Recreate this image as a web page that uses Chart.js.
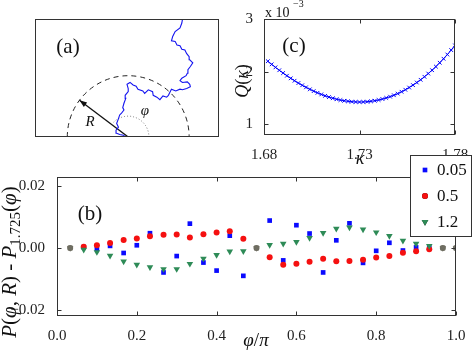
<!DOCTYPE html>
<html>
<head>
<meta charset="utf-8">
<script src="https://cdn.jsdelivr.net/npm/chart.js@4.4.1/dist/chart.umd.min.js"></script>
<style>
  html, body { margin: 0; padding: 0; background: #fff; }
  #wrap { position: relative; width: 474px; height: 353px; overflow: hidden; }
  #wrap canvas { position: absolute; left: 0; top: 0; }
</style>
</head>
<body>
<div id="wrap">
  <canvas id="panelA" width="474" height="353"></canvas>
  <canvas id="panelC" width="474" height="353"></canvas>
  <canvas id="panelB" width="474" height="353"></canvas>
</div>
<script>
// ---- panel (a): sample walk, in units of R (centre of the circle at 0,0)
const walkX = [0, -0.04, -0.08, -0.14, -0.19, -0.20, -0.16, -0.19, -0.16, -0.14, -0.11, -0.07, -0.09, -0.07, -0.04, -0.05,
  0, 0, -0.02, 0.03, 0.08, 0.13, 0.16, 0.24, 0.27, 0.33, 0.40, 0.41, 0.47, 0.52, 0.57, 0.63, 0.66, 0.68, 0.71, 0.78,
  0.85, 0.89, 0.96, 1.02, 1.01, 0.97, 0.89, 0.85, 0.88, 0.95, 0.97, 0.98, 1.02, 1.06, 1.01, 1.00, 0.96, 0.93, 0.88,
  0.85, 0.80, 0.77, 0.71, 0.73, 0.77, 0.85, 0.88, 0.89];
const walkY = [0, 0, 0.03, 0.04, 0.06, 0.11, 0.16, 0.22, 0.30, 0.36, 0.39, 0.44, 0.48, 0.55, 0.63, 0.68,
  0.74, 0.79, 0.86, 0.89, 0.85, 0.83, 0.78, 0.75, 0.71, 0.77, 0.74, 0.68, 0.65, 0.61, 0.67, 0.65, 0.68, 0.72, 0.78, 0.75,
  0.78, 0.77, 0.79, 0.82, 0.86, 0.90, 0.89, 0.92, 0.96, 1.00, 1.04, 1.10, 1.15, 1.21, 1.26, 1.31, 1.36, 1.42, 1.43,
  1.49, 1.50, 1.56, 1.57, 1.64, 1.72, 1.78, 1.86, 1.92];
const arrowTip = [-0.80, 0.60];
const circleR = 1;
const phiArcR = 0.34;
const phiArcEnd = 135; // degrees

// ---- panel (b)
const phiValues = [0.033, 0.067, 0.100, 0.133, 0.167, 0.200, 0.233, 0.267, 0.300, 0.333, 0.367, 0.400, 0.433, 0.467, 0.500,
  0.533, 0.567, 0.600, 0.633, 0.667, 0.700, 0.733, 0.767, 0.800, 0.833, 0.867, 0.900, 0.933, 0.967, 1.000];
const seriesLabels = ['0.05', '0.5', '1.2'];
const diff005 = [0, 0.0003, -0.0002, 0.0007, -0.0016, 0.0009, 0.0048, -0.0079, -0.0026, 0.0079, -0.0047, -0.0073, 0.0040, -0.0090, 0,
  0.0089, -0.0040, 0.0074, 0.0047, -0.0079, 0.0025, 0.0080, -0.0048, -0.0009, 0.0017, -0.0008, 0.0002, 0.0001, 0, 0];
const diff05 = [0, 0.0004, 0.0009, 0.0016, 0.0026, 0.0031, 0.0038, 0.0043, 0.0044, 0.0034, 0.0045, 0.0050, 0.0054, 0.0030, 0,
  -0.0030, -0.0054, -0.0051, -0.0044, -0.0035, -0.0043, -0.0042, -0.0038, -0.0031, -0.0026, -0.0015, -0.0010, -0.0004, 0, 0];
const diff12 = [0, -0.0005, -0.0013, -0.0025, -0.0043, -0.0054, -0.0062, -0.0068, -0.0068, -0.0051, -0.0034, -0.0022, -0.0011, -0.0010, 0,
  0.0010, 0.0014, 0.0020, 0.0033, 0.0049, 0.0063, 0.0067, 0.0060, 0.0051, 0.0039, 0.0024, 0.0014, 0.0007, 0, 0];
const phiTicks = [0, 0.2, 0.4, 0.6, 0.8, 1.0];
const diffTicks = [-0.02, 0, 0.02];
const diffTickLabels = ['\u22120.02', '0.00', '0.02'];

// ---- panel (c): Q(kappa), in units of 1e-3
const kappaValues = [1.682, 1.684, 1.686, 1.688, 1.690, 1.692, 1.694, 1.696, 1.698, 1.700, 1.702, 1.704, 1.706, 1.708, 1.710,
  1.712, 1.714, 1.716, 1.718, 1.720, 1.722, 1.724, 1.726, 1.728, 1.730, 1.732, 1.734, 1.736, 1.738, 1.740, 1.742, 1.744,
  1.746, 1.748, 1.750, 1.752, 1.754, 1.756, 1.758, 1.760, 1.762, 1.764, 1.766, 1.768, 1.770, 1.772, 1.774, 1.776, 1.778, 1.780];
const qValues = [2.199, 2.140, 2.083, 2.028, 1.975, 1.924, 1.875, 1.829, 1.785, 1.743, 1.704, 1.666, 1.632, 1.600, 1.570,
  1.543, 1.519, 1.497, 1.478, 1.462, 1.449, 1.439, 1.431, 1.427, 1.425, 1.427, 1.431, 1.439, 1.450, 1.464, 1.482, 1.503,
  1.527, 1.554, 1.585, 1.620, 1.658, 1.700, 1.746, 1.795, 1.847, 1.904, 1.965, 2.029, 2.097, 2.170, 2.246, 2.326, 2.411, 2.499];
const kappaTicks = [1.68, 1.73, 1.78];
const qTicks = [1, 2, 3];

const SERIF = '"Liberation Serif", serif';
const AXIS = '#333';
Chart.defaults.font.family = SERIF;
Chart.defaults.color = '#222';
Chart.defaults.animation = false;

// draw a run of text pieces (italic / subscript) centred on cx,cy
function drawParts(ctx, parts, cx, cy, angle, shift) {
  ctx.save();
  ctx.translate(cx, cy);
  ctx.rotate(angle || 0);
  let total = 0;
  parts.forEach(p => { ctx.font = p.font; total += ctx.measureText(p.t).width; });
  let x = -total / 2;
  ctx.textBaseline = 'alphabetic';
  ctx.textAlign = 'left';
  ctx.fillStyle = '#111';
  parts.forEach(p => {
    ctx.font = p.font;
    ctx.fillText(p.t, x, (p.dy || 0) + (shift || 6));
    x += ctx.measureText(p.t).width;
  });
  ctx.restore();
}

function drawText(ctx, t, x, y, font) {
  ctx.save();
  ctx.font = font;
  ctx.fillStyle = '#111';
  ctx.textAlign = 'center';
  ctx.textBaseline = 'middle';
  ctx.fillText(t, x, y);
  ctx.restore();
}

// box round the plot area with matlab-style inward ticks
function drawFrame(chart, withTicks) {
  const ctx = chart.ctx;
  const a = chart.chartArea;
  ctx.save();
  ctx.strokeStyle = AXIS;
  ctx.lineWidth = 1;
  const l = Math.round(a.left) + 0.5, r = Math.round(a.right) - 0.5;
  const t = Math.round(a.top) + 0.5, b = Math.round(a.bottom) - 0.5;
  ctx.strokeRect(l, t, r - l, b - t);
  if (withTicks) {
    const len = 4;
    ctx.beginPath();
    chart.scales.x.ticks.forEach(tk => {
      const px = Math.round(chart.scales.x.getPixelForValue(tk.value)) + 0.5;
      ctx.moveTo(px, b); ctx.lineTo(px, b - len);
      ctx.moveTo(px, t); ctx.lineTo(px, t + len);
    });
    chart.scales.y.ticks.forEach(tk => {
      const py = Math.round(chart.scales.y.getPixelForValue(tk.value)) + 0.5;
      ctx.moveTo(l, py); ctx.lineTo(l + len, py);
      ctx.moveTo(r, py); ctx.lineTo(r - len, py);
    });
    ctx.stroke();
  }
  ctx.restore();
}

function fixedTicks(values) {
  return function(scale) { scale.ticks = values.map(v => ({ value: v })); };
}

const noGrid = { display: false };
const noBorder = { display: false };

// ---------------- panel (a)
const panelAPlugin = {
  id: 'panelA',
  beforeDatasetsDraw(chart) {
    const ctx = chart.ctx, xs = chart.scales.x, ys = chart.scales.y;
    const cx = xs.getPixelForValue(0), cy = ys.getPixelForValue(0);
    const rx = xs.getPixelForValue(circleR) - cx, ry = cy - ys.getPixelForValue(circleR);
    ctx.save();
    ctx.strokeStyle = '#222';
    ctx.lineWidth = 1;
    ctx.setLineDash([5, 4]);
    ctx.beginPath();
    ctx.ellipse(cx, cy, rx, ry, 0, Math.PI, 2 * Math.PI);
    ctx.stroke();
    const sx = xs.getPixelForValue(phiArcR) - cx, sy = cy - ys.getPixelForValue(phiArcR);
    ctx.strokeStyle = '#777';
    ctx.setLineDash([1, 2]);
    ctx.beginPath();
    ctx.ellipse(cx, cy, sx, sy, 0, -phiArcEnd * Math.PI / 180, 0);
    ctx.stroke();
    ctx.restore();
  },
  afterDraw(chart) {
    const ctx = chart.ctx, xs = chart.scales.x, ys = chart.scales.y;
    drawFrame(chart, false);
    // arrow head
    const x0 = xs.getPixelForValue(0), y0 = ys.getPixelForValue(0);
    const x1 = xs.getPixelForValue(arrowTip[0]), y1 = ys.getPixelForValue(arrowTip[1]);
    const ang = Math.atan2(y1 - y0, x1 - x0);
    ctx.save();
    ctx.fillStyle = '#111';
    ctx.beginPath();
    ctx.moveTo(x1, y1);
    ctx.lineTo(x1 - 8 * Math.cos(ang - 0.35), y1 - 8 * Math.sin(ang - 0.35));
    ctx.lineTo(x1 - 8 * Math.cos(ang + 0.35), y1 - 8 * Math.sin(ang + 0.35));
    ctx.closePath();
    ctx.fill();
    ctx.restore();
    drawText(ctx, '(a)', 68, 47, '21px ' + SERIF);
    drawText(ctx, 'R', 90, 122, 'italic 15px ' + SERIF);
    drawText(ctx, '\u03c6', 145, 111, 'italic 15px ' + SERIF);
  }
};

new Chart(document.getElementById('panelA'), {
  type: 'scatter',
  data: {
    datasets: [
      {
        data: walkX.map((x, i) => ({ x: x, y: walkY[i] })),
        showLine: true, borderColor: '#1414f0', borderWidth: 1.1, pointRadius: 0
      },
      {
        data: [{ x: 0, y: 0 }, { x: arrowTip[0], y: arrowTip[1] }],
        showLine: true, borderColor: '#111', borderWidth: 1.3, pointRadius: 0
      }
    ]
  },
  options: {
    responsive: false,
    layout: { padding: { left: 35, top: 19, right: 255, bottom: 216 } },
    scales: {
      x: { display: false, min: -1.53, max: 1.49 },
      y: { display: false, min: 0, max: 1.925 }
    },
    plugins: { legend: { display: false }, tooltip: { enabled: false } }
  },
  plugins: [panelAPlugin]
});

// ---------------- panel (c)
const panelCPlugin = {
  id: 'panelC',
  afterDraw(chart) {
    const ctx = chart.ctx;
    drawFrame(chart, true);
    drawText(ctx, '(c)', 294, 46, '21px ' + SERIF);
    drawText(ctx, '\u03ba', 360, 159, 'italic 18px ' + SERIF);
    drawParts(ctx, [
      { t: 'Q', font: 'italic 18px ' + SERIF },
      { t: '(', font: '18px ' + SERIF },
      { t: '\u03ba', font: 'italic 18px ' + SERIF },
      { t: ')', font: '18px ' + SERIF }
    ], 242, 81, -Math.PI / 2);
    ctx.save();
    ctx.fillStyle = '#111';
    ctx.textBaseline = 'alphabetic';
    ctx.font = '14px ' + SERIF;
    ctx.fillText('x 10', 265, 17);
    ctx.font = '10px ' + SERIF;
    ctx.fillText('\u22123', 293, 7);
    ctx.restore();
  }
};

new Chart(document.getElementById('panelC'), {
  type: 'scatter',
  data: {
    datasets: [{
      data: kappaValues.map((k, i) => ({ x: k, y: qValues[i] })),
      showLine: true, borderColor: '#0000ff', borderWidth: 1,
      pointStyle: 'crossRot', pointRadius: 2.6, pointBorderWidth: 1, pointBorderColor: '#0000ff'
    }]
  },
  options: {
    responsive: false,
    layout: { padding: { left: 0, top: 19, right: 19, bottom: 0 } },
    scales: {
      x: {
        min: 1.68, max: 1.78, grid: noGrid, border: noBorder,
        afterBuildTicks: fixedTicks(kappaTicks),
        afterFit(s) { s.height = 218; },
        ticks: { font: { size: 15 }, padding: 3, maxRotation: 0, callback: v => v.toFixed(2) }
      },
      y: {
        min: 0.8, max: 3, grid: noGrid, border: noBorder,
        afterBuildTicks: fixedTicks(qTicks),
        afterFit(s) { s.width = 264; },
        ticks: { font: { size: 15 }, padding: 3, callback: v => String(v) }
      }
    },
    plugins: { legend: { display: false }, tooltip: { enabled: false } }
  },
  plugins: [panelCPlugin]
});

// ---------------- panel (b)
const panelBPlugin = {
  id: 'panelB',
  afterDraw(chart) {
    const ctx = chart.ctx;
    drawFrame(chart, true);
    drawText(ctx, '(b)', 90, 214, '21px ' + SERIF);
    drawParts(ctx, [
      { t: '\u03c6', font: 'italic 19px ' + SERIF },
      { t: '/', font: '19px ' + SERIF },
      { t: '\u03c0', font: 'italic 19px ' + SERIF }
    ], 256, 340, 0);
    const it = 'italic 21px ' + SERIF, up = '21px ' + SERIF;
    drawParts(ctx, [
      { t: 'P', font: it }, { t: '(', font: up }, { t: '\u03c6', font: it }, { t: ', ', font: up },
      { t: 'R', font: it }, { t: ')', font: up }, { t: ' - ', font: up }, { t: 'P', font: it },
      { t: '1.725', font: '15px ' + SERIF, dy: 4 }, { t: '(', font: up }, { t: '\u03c6', font: it },
      { t: ')', font: up }
    ], 9, 262, -Math.PI / 2, 7);

    // legend box
    const bx = 410.5, by = 155.5, bw = 61, bh = 81;
    ctx.save();
    ctx.fillStyle = '#fff';
    ctx.fillRect(bx, by, bw, bh);
    ctx.strokeStyle = AXIS;
    ctx.lineWidth = 1;
    ctx.strokeRect(bx, by, bw, bh);
    chart.data.datasets.forEach((ds, i) => {
      const y = 170 + i * 26;
      Chart.helpers.drawPoint(ctx, {
        pointStyle: ds.pointStyle, radius: ds.pointRadius, rotation: ds.rotation || 0, borderWidth: 0
      }, 425, y);
      ctx.fillStyle = ds.legendColor;
      ctx.fill();
      ctx.fillStyle = '#111';
      ctx.font = '17px ' + SERIF;
      ctx.textBaseline = 'middle';
      ctx.textAlign = 'left';
      ctx.fillText(ds.label, 437, y + 1);
    });
    ctx.restore();
  }
};

// markers where all three series sit on top of each other come out grey
function markerColor(base) {
  return function(c) {
    const i = c.dataIndex;
    const same = diff005[i] === diff05[i] && diff05[i] === diff12[i];
    return same ? '#6f6e62' : base;
  };
}

new Chart(document.getElementById('panelB'), {
  type: 'scatter',
  data: {
    datasets: [
      {
        label: seriesLabels[0], order: 3,
        data: phiValues.map((p, i) => ({ x: p, y: diff005[i] })),
        pointStyle: 'rect', pointRadius: 3.3, borderWidth: 0,
        backgroundColor: markerColor('#0a0aff'), legendColor: '#0a0aff'
      },
      {
        label: seriesLabels[1], order: 2,
        data: phiValues.map((p, i) => ({ x: p, y: diff05[i] })),
        pointStyle: 'circle', pointRadius: 3, borderWidth: 0,
        backgroundColor: markerColor('#f51010'), legendColor: '#f51010'
      },
      {
        label: seriesLabels[2], order: 1,
        data: phiValues.map((p, i) => ({ x: p, y: diff12[i] })),
        pointStyle: 'triangle', rotation: 180, pointRadius: 3.8, borderWidth: 0,
        backgroundColor: markerColor('#2e8b57'), legendColor: '#2e8b57'
      }
    ]
  },
  options: {
    responsive: false,
    layout: { padding: { left: 0, top: 177, right: 18, bottom: 0 } },
    scales: {
      x: {
        min: 0, max: 1, grid: noGrid, border: noBorder,
        afterBuildTicks: fixedTicks(phiTicks),
        afterFit(s) { s.height = 37; },
        ticks: { font: { size: 15 }, padding: 3, maxRotation: 0, callback: v => v.toFixed(1) }
      },
      y: {
        min: -0.022, max: 0.023, grid: noGrid, border: noBorder,
        afterBuildTicks: fixedTicks(diffTicks),
        afterFit(s) { s.width = 57; },
        ticks: { font: { size: 15 }, padding: 4, callback: (v, i) => diffTickLabels[i] }
      }
    },
    plugins: { legend: { display: false }, tooltip: { enabled: false } }
  },
  plugins: [panelBPlugin]
});
</script>
</body>
</html>
